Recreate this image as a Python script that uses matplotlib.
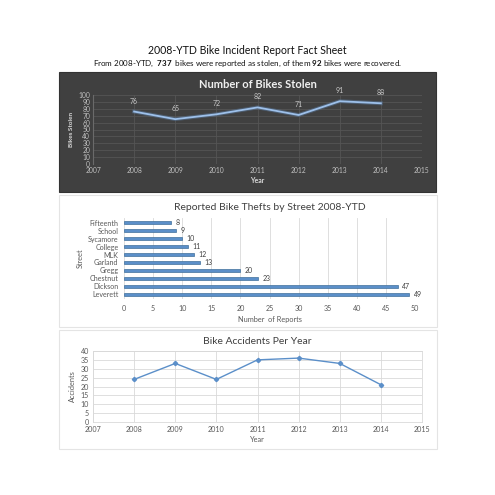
import numpy as np
import matplotlib
matplotlib.use("Agg")
import matplotlib.pyplot as plt
from matplotlib.patches import Rectangle
import matplotlib.patheffects as pe

plt.rcParams['font.family'] = ['Lato', 'DejaVu Sans']
plt.rcParams['mathtext.fontset'] = 'custom'
plt.rcParams['mathtext.rm'] = 'Lato'
plt.rcParams['mathtext.bf'] = 'Lato:bold'

# data
years = [2008, 2009, 2010, 2011, 2012, 2013, 2014]
stolen = [76, 65, 72, 82, 71, 91, 88]
streets = ["Leverett", "Dickson", "Chestnut", "Gregg", "Garland",
           "MLK", "College", "Sycamore", "School", "Fifteenth"]
reports = [49, 47, 23, 20, 13, 12, 11, 10, 9, 8]
accidents = [24, 33, 24, 35, 36, 33, 21]

W = H = 495.0
fig = plt.figure(figsize=(4.95, 4.95), dpi=100)
fig.patch.set_facecolor("white")

def box(x0, y0, x1, y1):
    # pixel box -> figure fraction rect
    return [x0 / W, 1 - y1 / H, (x1 - x0) / W, (y1 - y0) / H]

def panel(x0, y0, x1, y1, fc, ec):
    r = box(x0, y0, x1, y1)
    fig.add_artist(Rectangle((r[0], r[1]), r[2], r[3], transform=fig.transFigure,
                             facecolor=fc, edgecolor=ec, linewidth=0.8, zorder=0))

fig.text(0.5, 1 - 50 / H, "2008-YTD Bike Incident Report Fact Sheet",
         ha="center", va="center", fontsize=7.6, color="#111111")
fig.text(0.5, 1 - 64 / H,
         r"From 2008-YTD,  $\mathbf{737}$  bikes were reported as stolen, of them $\mathbf{92}$ bikes were recovered.",
         ha="center", va="center", fontsize=5.8, color="#111111")

panel(59, 72, 436, 192, "#404040", "#333333")
panel(59, 195, 437, 327, "white", "#e4e4e4")
panel(59, 330, 437, 449, "white", "#e4e4e4")

# chart 1 - bikes stolen
ax1 = fig.add_axes(box(93, 95, 422, 164))
ax1.set_facecolor("#404040")
ax1.plot(years, stolen, color="#9dc0ea", linewidth=1.3, zorder=3,
         path_effects=[pe.Stroke(linewidth=2.8, foreground="#5a7aa0", alpha=0.5), pe.Normal()])
for x, y in zip(years, stolen):
    ax1.annotate(str(y), (x, y), xytext=(0, 5), textcoords="offset points",
                 ha="center", va="bottom", fontsize=5, color="#c8c8c8")
ax1.set_xlim(2007, 2015)
ax1.set_ylim(0, 100)
ax1.set_xticks(range(2007, 2016))
ax1.set_yticks(range(0, 101, 10))
ax1.grid(True, color="#555555", linewidth=0.6)
ax1.set_axisbelow(True)
for s in ax1.spines.values():
    s.set_visible(False)
ax1.spines["left"].set_visible(True)
ax1.spines["left"].set_color("#6a6a6a")
ax1.tick_params(colors="#bfbfbf", labelsize=4.9, length=0, pad=2)
ax1.set_xlabel("Year", fontsize=5, color="#d9d9d9", fontweight="bold", labelpad=2)
ax1.set_ylabel("Bikes Stolen", fontsize=4.6, color="#d9d9d9", fontweight="bold", labelpad=3)
ax1.set_title("Number of Bikes Stolen", fontsize=8, color="#f0f0f0", fontweight="bold", pad=5)

# chart 2 - thefts by street
ax2 = fig.add_axes(box(124, 218, 415, 299))
ypos = np.arange(len(streets))
ax2.barh(ypos, reports, height=0.42, color="#5b8fc9", edgecolor="#41719c", linewidth=0.5, zorder=3)
for y, v in zip(ypos, reports):
    ax2.text(v + 0.8, y, str(v), va="center", ha="left", fontsize=5, color="#404040")
ax2.set_yticks(ypos)
ax2.set_yticklabels(streets)
ax2.set_ylim(-0.6, len(streets) - 0.4)
ax2.set_xlim(0, 50)
ax2.set_xticks(range(0, 51, 5))
ax2.grid(True, axis="x", color="#d9d9d9", linewidth=0.6)
ax2.set_axisbelow(True)
for s in ax2.spines.values():
    s.set_visible(False)
ax2.tick_params(colors="#595959", labelsize=5.1, length=0, pad=4)
ax2.set_xlabel("Number  of Reports", fontsize=5.3, color="#595959", labelpad=3)
ax2.set_ylabel("Street", fontsize=5.3, color="#595959", labelpad=3)
ax2.set_title("Reported Bike Thefts by Street 2008-YTD", fontsize=7.5, color="#404040", pad=6)

# chart 3 - accidents
ax3 = fig.add_axes(box(93, 351, 422, 422))
ax3.plot(years, accidents, color="#5b8fc9", linewidth=1.0, marker="D", markersize=2.2, zorder=3)
ax3.set_xlim(2007, 2015)
ax3.set_ylim(0, 40)
ax3.set_xticks(range(2007, 2016))
ax3.set_yticks(range(0, 41, 5))
ax3.grid(True, color="#d9d9d9", linewidth=0.6)
ax3.set_axisbelow(True)
for s in ax3.spines.values():
    s.set_color("#d9d9d9")
    s.set_linewidth(0.6)
ax3.tick_params(colors="#595959", labelsize=5.1, length=0, pad=3)
ax3.set_xlabel("Year", fontsize=5.3, color="#595959", labelpad=2)
ax3.set_ylabel("Accidents", fontsize=5.3, color="#595959", labelpad=3)
ax3.set_title("Bike Accidents Per Year", fontsize=7.5, color="#404040", pad=5)

fig.savefig("out.png", dpi=100, facecolor="white")
